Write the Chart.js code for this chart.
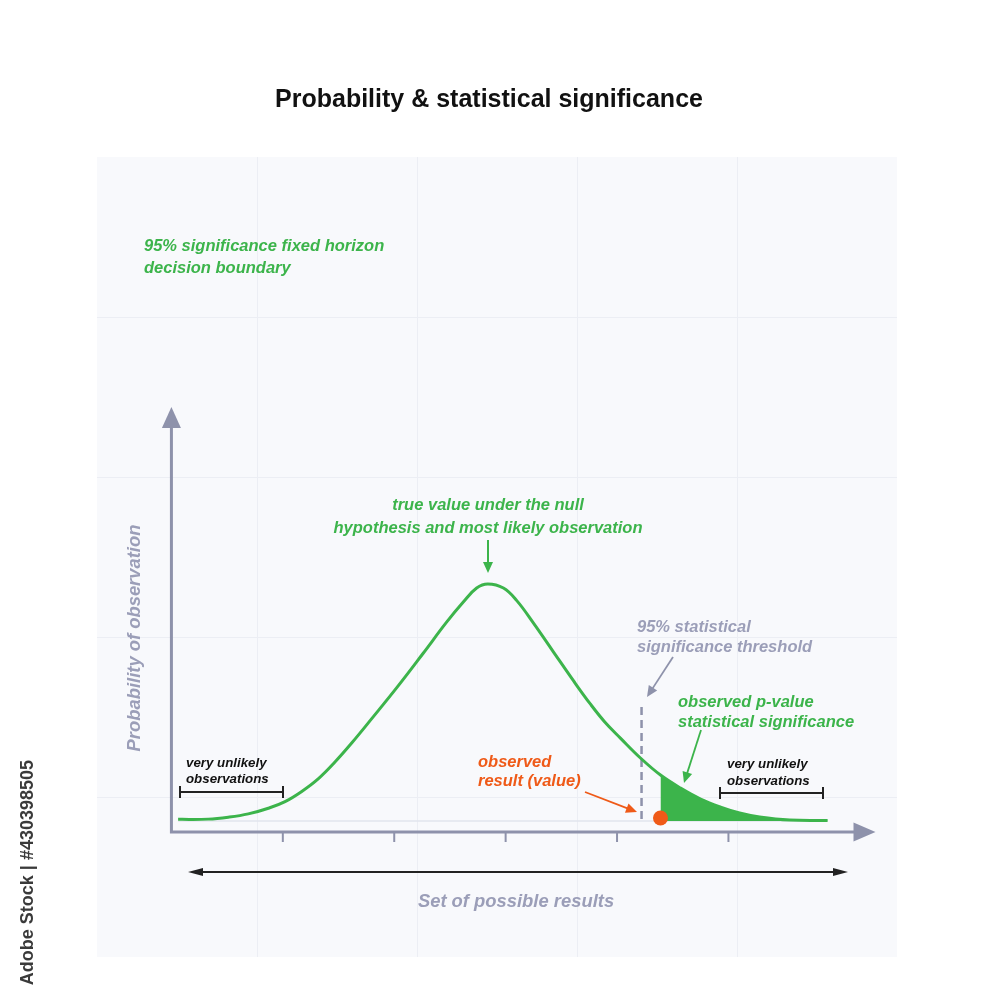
<!DOCTYPE html>
<html>
<head>
<meta charset="utf-8">
<script src="https://cdn.jsdelivr.net/npm/chart.js@4.4.1/dist/chart.umd.min.js"></script>
<style>
  html, body { margin: 0; padding: 0; background: #ffffff; }
  #wrap { width: 1000px; height: 1000px; }
</style>
</head>
<body>
<div id="wrap"><canvas id="bellChart" width="1000" height="1000"></canvas></div>
<script>
// Đường cong phân phối: x theo vạch trục, y theo % so với đỉnh
var curveX = [0.06, 0.33, 0.51, 0.69, 0.87, 1.02, 1.17, 1.32, 1.47, 1.62, 1.80, 2.03, 2.26, 2.47, 2.62, 2.74, 2.84,
              2.98, 3.10, 3.25, 3.43, 3.61, 3.76, 3.89, 4.03, 4.21, 4.39, 4.57, 4.75, 4.93, 5.10, 5.28, 5.55, 5.89];
var curveY = [0.7, 0.8, 1.6, 3.0, 5.4, 8.2, 12.5, 17.9, 25.0, 33.0, 43.3, 56.7, 70.8, 83.9, 92.4, 98.3, 100,
              98.3, 93.0, 83.5, 71.3, 59.1, 49.4, 41.8, 35.0, 26.6, 19.4, 13.9, 9.3, 5.9, 3.4, 1.7, 0.4, 0.2];
// Vạch chia trên trục ngang
var tickValues = [1, 2, 3, 4, 5];
// Ngưỡng 95% và kết quả quan sát
var thresholdX = 4.22;
var observedX = 4.39;
var observedY = 1.3;

var green = '#3cb44b';
var orange = '#ef5a18';
var axisGray = '#8e92ab';
var textGray = '#9b9eb8';

var curvePoints = curveX.map(function (x, i) { return { x: x, y: curveY[i] }; });
var tailPoints = curvePoints.filter(function (p) { return p.x >= observedX; });

// Chữ chú thích
var labels = [
    { t: 'Probability & statistical significance', x: 489, y: 107, f: 'bold 25px', c: '#111111', a: 'center' },
    { t: '95% significance fixed horizon', x: 144, y: 251, f: 'italic bold 16.5px', c: green, a: 'left' },
    { t: 'decision boundary', x: 144, y: 273, f: 'italic bold 16.5px', c: green, a: 'left' },
    { t: 'true value under the null', x: 488, y: 510, f: 'italic bold 16.5px', c: green, a: 'center' },
    { t: 'hypothesis and most likely observation', x: 488, y: 533, f: 'italic bold 16.5px', c: green, a: 'center' },
    { t: '95% statistical', x: 637, y: 632, f: 'italic bold 16.5px', c: textGray, a: 'left' },
    { t: 'significance threshold', x: 637, y: 652, f: 'italic bold 16.5px', c: textGray, a: 'left' },
    { t: 'observed p-value', x: 678, y: 707, f: 'italic bold 16.5px', c: green, a: 'left' },
    { t: 'statistical significance', x: 678, y: 727, f: 'italic bold 16.5px', c: green, a: 'left' },
    { t: 'observed', x: 478, y: 767, f: 'italic bold 16.5px', c: orange, a: 'left' },
    { t: 'result (value)', x: 478, y: 786, f: 'italic bold 16.5px', c: orange, a: 'left' },
    { t: 'very unlikely', x: 186, y: 767, f: 'italic bold 13.3px', c: '#111111', a: 'left' },
    { t: 'observations', x: 186, y: 783, f: 'italic bold 13.3px', c: '#111111', a: 'left' },
    { t: 'very unlikely', x: 727, y: 768, f: 'italic bold 13.3px', c: '#111111', a: 'left' },
    { t: 'observations', x: 727, y: 785, f: 'italic bold 13.3px', c: '#111111', a: 'left' },
    { t: 'Set of possible results', x: 516, y: 907, f: 'italic bold 18.4px', c: textGray, a: 'center' }
];

function arrowHead(ctx, x1, y1, x2, y2, len, half) {
    var ang = Math.atan2(y2 - y1, x2 - x1);
    ctx.beginPath();
    ctx.moveTo(x2, y2);
    ctx.lineTo(x2 - len * Math.cos(ang) + half * Math.sin(ang), y2 - len * Math.sin(ang) - half * Math.cos(ang));
    ctx.lineTo(x2 - len * Math.cos(ang) - half * Math.sin(ang), y2 - len * Math.sin(ang) + half * Math.cos(ang));
    ctx.closePath();
    ctx.fill();
}

function arrow(ctx, x1, y1, x2, y2, color, width, len, half) {
    var ang = Math.atan2(y2 - y1, x2 - x1);
    ctx.strokeStyle = color;
    ctx.fillStyle = color;
    ctx.lineWidth = width;
    ctx.beginPath();
    ctx.moveTo(x1, y1);
    ctx.lineTo(x2 - len * 0.8 * Math.cos(ang), y2 - len * 0.8 * Math.sin(ang));
    ctx.stroke();
    arrowHead(ctx, x1, y1, x2, y2, len, half);
}

function bracket(ctx, x1, x2, y) {
    ctx.strokeStyle = '#222222';
    ctx.lineWidth = 2;
    ctx.beginPath();
    ctx.moveTo(x1, y); ctx.lineTo(x2, y);
    ctx.moveTo(x1, y - 6); ctx.lineTo(x1, y + 6);
    ctx.moveTo(x2, y - 6); ctx.lineTo(x2, y + 6);
    ctx.stroke();
}

var diagram = {
    id: 'diagram',
    beforeDatasetsDraw: function (chart) {
        var ctx = chart.ctx, a = chart.chartArea, s = chart.scales;
        ctx.save();
        // Nền bảng và lưới mờ
        ctx.fillStyle = '#f8f9fc';
        ctx.fillRect(a.left, a.top, a.width, a.height);
        ctx.strokeStyle = '#eceef4';
        ctx.lineWidth = 1;
        for (var g = 1; g < 5; g++) {
            var gx = Math.round(s.gx.getPixelForValue(g)) + 0.5;
            var gy = Math.round(s.gy.getPixelForValue(g)) + 0.5;
            ctx.beginPath();
            ctx.moveTo(gx, a.top); ctx.lineTo(gx, a.bottom);
            ctx.moveTo(a.left, gy); ctx.lineTo(a.right, gy);
            ctx.stroke();
        }
        // Đường nền của đường cong
        var y0 = s.y.getPixelForValue(0);
        ctx.strokeStyle = '#e2e4ee';
        ctx.lineWidth = 1.5;
        ctx.beginPath();
        ctx.moveTo(s.x.getPixelForValue(curveX[0]), y0);
        ctx.lineTo(s.x.getPixelForValue(curveX[curveX.length - 1]), y0);
        ctx.stroke();

        // Trục tọa độ
        var ox = s.x.getPixelForValue(0);
        var oy = s.y.getPixelForValue(-4.64);
        var topY = s.y.getPixelForValue(174.7);
        var endX = s.x.getPixelForValue(6.32);
        ctx.strokeStyle = axisGray;
        ctx.fillStyle = axisGray;
        ctx.lineWidth = 3;
        ctx.beginPath();
        ctx.moveTo(ox, topY + 18);
        ctx.lineTo(ox, oy);
        ctx.lineTo(endX - 18, oy);
        ctx.stroke();
        arrowHead(ctx, ox, oy, ox, topY, 21, 9.5);
        arrowHead(ctx, ox, oy, endX, oy, 22, 9.5);
        ctx.lineWidth = 2;
        tickValues.forEach(function (t) {
            var tx = s.x.getPixelForValue(t);
            ctx.beginPath();
            ctx.moveTo(tx, oy);
            ctx.lineTo(tx, oy + 10);
            ctx.stroke();
        });

        // Ngưỡng 95% (nét đứt)
        var thx = s.x.getPixelForValue(thresholdX);
        ctx.setLineDash([8, 5]);
        ctx.lineWidth = 2.5;
        ctx.beginPath();
        ctx.moveTo(thx, 707);
        ctx.lineTo(thx, y0);
        ctx.stroke();
        ctx.setLineDash([]);
        ctx.restore();
    },
    afterDatasetsDraw: function (chart) {
        var ctx = chart.ctx;
        ctx.save();
        // Mũi tên chú thích
        arrow(ctx, 488, 540, 488, 573, green, 2, 11, 5);
        arrow(ctx, 673, 657, 647, 697, axisGray, 1.8, 11, 5);
        arrow(ctx, 701, 730, 684, 783, green, 1.8, 11, 5);
        arrow(ctx, 585, 792, 637, 812, orange, 1.8, 11, 5);
        // Ngoặc "very unlikely observations"
        bracket(ctx, 180, 283, 792);
        bracket(ctx, 720, 823, 793);
        // Mũi tên hai chiều
        ctx.strokeStyle = '#222222';
        ctx.fillStyle = '#222222';
        ctx.lineWidth = 2;
        ctx.beginPath();
        ctx.moveTo(198, 872);
        ctx.lineTo(838, 872);
        ctx.stroke();
        arrowHead(ctx, 848, 872, 188, 872, 15, 4);
        arrowHead(ctx, 188, 872, 848, 872, 15, 4);

        // Chữ
        var fam = ' "Liberation Sans", Arial, Helvetica, sans-serif';
        ctx.textBaseline = 'alphabetic';
        labels.forEach(function (l) {
            ctx.font = l.f + fam;
            ctx.fillStyle = l.c;
            ctx.textAlign = l.a;
            ctx.fillText(l.t, l.x, l.y);
        });
        // Nhãn trục dọc (xoay)
        ctx.save();
        ctx.translate(140, 638);
        ctx.rotate(-Math.PI / 2);
        ctx.font = 'italic bold 18.4px' + fam;
        ctx.fillStyle = textGray;
        ctx.textAlign = 'center';
        ctx.fillText('Probability of observation', 0, 0);
        ctx.restore();
        // Dòng chữ dọc bên trái
        ctx.save();
        ctx.translate(33, 760);
        ctx.rotate(-Math.PI / 2);
        ctx.font = 'bold 18px' + fam;
        ctx.fillStyle = '#3a3a3a';
        ctx.textAlign = 'right';
        ctx.fillText('Adobe Stock | #430398505', 0, 0);
        ctx.restore();
        ctx.restore();
    }
};

var bellChart = new Chart(document.getElementById('bellChart').getContext('2d'), {
    type: 'scatter',
    data: {
        datasets: [{
            label: 'observed result',
            data: [{ x: observedX, y: observedY }],
            pointRadius: 7.5,
            pointBackgroundColor: orange,
            pointBorderWidth: 0,
            showLine: false,
            order: 0
        }, {
            label: 'probability',
            data: curvePoints,
            borderColor: green,
            borderWidth: 3,
            pointRadius: 0,
            showLine: true,
            fill: false,
            tension: 0.4,
            order: 1
        }, {
            label: 'p-value',
            data: tailPoints,
            borderWidth: 0,
            borderColor: 'rgba(0,0,0,0)',
            backgroundColor: green,
            pointRadius: 0,
            showLine: true,
            fill: 'origin',
            tension: 0.4,
            order: 2
        }]
    },
    options: {
        responsive: false,
        animation: false,
        events: [],
        layout: { padding: { left: 97, right: 103, top: 157, bottom: 43 } },
        scales: {
            x: { type: 'linear', display: false, min: -0.668, max: 6.513 },
            y: { type: 'linear', display: false, min: -57.38, max: 280.2 },
            gx: { type: 'linear', axis: 'x', display: false, min: 0, max: 5 },
            gy: { type: 'linear', axis: 'y', display: false, min: 0, max: 5 }
        },
        plugins: {
            legend: { display: false },
            tooltip: { enabled: false }
        }
    },
    plugins: [diagram]
});
</script>
</body>
</html>
